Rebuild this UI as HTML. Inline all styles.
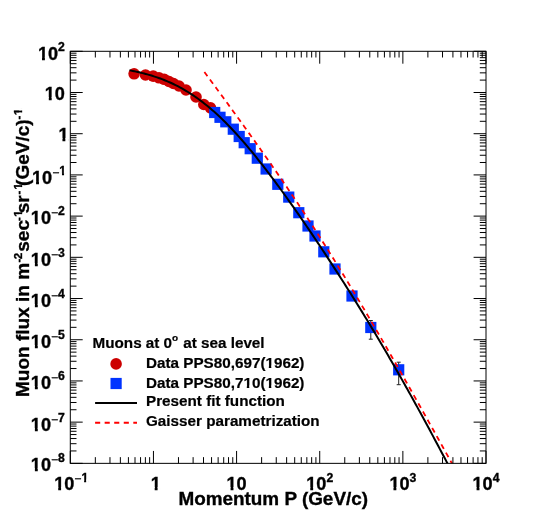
<!DOCTYPE html>
<html><head><meta charset="utf-8"><title>Muon flux</title><style>html,body{margin:0;padding:0;background:#fff}svg{display:block}</style></head><body>
<svg width="540" height="515" viewBox="0 0 540 515">
<rect width="540" height="515" fill="#fff"></rect>
<g fill="#cc0000">
<circle cx="134.1" cy="73.8" r="5.8"></circle>
<circle cx="145.5" cy="75" r="5.8"></circle>
<circle cx="153.2" cy="76.1" r="5.8"></circle>
<circle cx="159" cy="77.8" r="5.8"></circle>
<circle cx="164.2" cy="79.3" r="5.8"></circle>
<circle cx="169" cy="81.5" r="5.8"></circle>
<circle cx="173.5" cy="83.5" r="5.8"></circle>
<circle cx="179" cy="86" r="5.8"></circle>
<circle cx="186" cy="90" r="5.8"></circle>
<circle cx="196" cy="97" r="5.8"></circle>
<circle cx="203.8" cy="104.5" r="5.8"></circle>
<circle cx="210.5" cy="107.8" r="5.8"></circle>
</g>
<g stroke="#222" stroke-width="1" fill="none">
<path d="M370.8 320.5V339.2M368.8 320.5H372.8M368.8 339.2H372.8"></path>
<path d="M398.7 362.2V384.7M396.7 362.2H400.7M396.7 384.7H400.7"></path>
</g>
<g fill="#0033ff">
<rect x="209.10" y="106.90" width="11.2" height="11.2"></rect>
<rect x="214.40" y="111.70" width="11.2" height="11.2"></rect>
<rect x="220.20" y="116.20" width="11.2" height="11.2"></rect>
<rect x="227.70" y="123.60" width="11.2" height="11.2"></rect>
<rect x="233.60" y="130.90" width="11.2" height="11.2"></rect>
<rect x="238.60" y="137.10" width="11.2" height="11.2"></rect>
<rect x="244.60" y="143.10" width="11.2" height="11.2"></rect>
<rect x="251.70" y="152.60" width="11.2" height="11.2"></rect>
<rect x="260.50" y="163.40" width="11.2" height="11.2"></rect>
<rect x="272.20" y="178.70" width="11.2" height="11.2"></rect>
<rect x="283.15" y="191.50" width="11.2" height="11.2"></rect>
<rect x="293.20" y="207.10" width="11.2" height="11.2"></rect>
<rect x="302.40" y="220.40" width="11.2" height="11.2"></rect>
<rect x="309.40" y="230.40" width="11.2" height="11.2"></rect>
<rect x="318.20" y="246.20" width="11.2" height="11.2"></rect>
<rect x="329.40" y="263.40" width="11.2" height="11.2"></rect>
<rect x="346.40" y="290.40" width="11.2" height="11.2"></rect>
<rect x="365.20" y="321.90" width="11.2" height="11.2"></rect>
<rect x="393.10" y="364.20" width="11.2" height="11.2"></rect>
</g>
<clipPath id="cp"><rect x="70.3" y="51.3" width="415.7" height="412.05"></rect></clipPath>
<polyline clip-path="url(#cp)" points="129.48,70.34 131.10,70.64 132.73,70.95 134.36,71.28 135.98,71.62 137.61,71.97 139.23,72.34 140.86,72.72 142.48,73.11 144.11,73.52 145.73,73.95 147.36,74.39 148.98,74.85 150.61,75.32 152.23,75.82 153.86,76.33 155.48,76.86 157.11,77.41 158.74,77.97 160.36,78.56 161.99,79.17 163.61,79.80 165.24,80.45 166.86,81.12 168.49,81.81 170.11,82.53 171.74,83.27 173.36,84.03 174.99,84.82 176.61,85.63 178.24,86.47 179.86,87.33 181.49,88.22 183.11,89.13 184.74,90.07 186.37,91.03 187.99,92.02 189.62,93.04 191.24,94.08 192.87,95.15 194.49,96.25 196.12,97.38 197.74,98.53 199.37,99.71 200.99,100.92 202.62,102.16 204.24,103.42 205.87,104.71 207.49,106.03 209.12,107.38 210.74,108.75 212.37,110.15 214.00,111.58 215.62,113.04 217.25,114.52 218.87,116.03 220.50,117.56 222.12,119.12 223.75,120.71 225.37,122.32 227.00,123.96 228.62,125.62 230.25,127.30 231.87,129.01 233.50,130.75 235.12,132.50 236.75,134.28 238.38,136.08 240.00,137.90 241.63,139.75 243.25,141.61 244.88,143.50 246.50,145.40 248.13,147.33 249.75,149.27 251.38,151.23 253.00,153.21 254.63,155.21 256.25,157.23 257.88,159.26 259.50,161.31 261.13,163.37 262.75,165.45 264.38,167.55 266.01,169.66 267.63,171.78 269.26,173.92 270.88,176.07 272.51,178.24 274.13,180.42 275.76,182.61 277.38,184.81 279.01,187.03 280.63,189.26 282.26,191.49 283.88,193.74 285.51,196.00 287.13,198.27 288.76,200.55 290.38,202.84 292.01,205.14 293.64,207.45 295.26,209.77 296.89,212.10 298.51,214.44 300.14,216.78 301.76,219.14 303.39,221.50 305.01,223.87 306.64,226.25 308.26,228.64 309.89,231.03 311.51,233.43 313.14,235.84 314.76,238.26 316.39,240.69 318.01,243.12 319.64,245.56 321.27,248.01 322.89,250.46 324.52,252.92 326.14,255.39 327.77,257.87 329.39,260.35 331.02,262.84 332.64,265.34 334.27,267.85 335.89,270.36 337.52,272.88 339.14,275.41 340.77,277.95 342.39,280.49 344.02,283.04 345.65,285.60 347.27,288.17 348.90,290.74 350.52,293.32 352.15,295.91 353.77,298.51 355.40,301.12 357.02,303.74 358.65,306.36 360.27,308.99 361.90,311.63 363.52,314.28 365.15,316.94 366.77,319.60 368.40,322.28 370.02,324.96 371.65,327.66 373.28,330.36 374.90,333.07 376.53,335.79 378.15,338.52 379.78,341.26 381.40,344.01 383.03,346.77 384.65,349.54 386.28,352.32 387.90,355.10 389.53,357.90 391.15,360.71 392.78,363.52 394.40,366.35 396.03,369.18 397.65,372.03 399.28,374.88 400.91,377.75 402.53,380.62 404.16,383.50 405.78,386.40 407.41,389.30 409.03,392.21 410.66,395.13 412.28,398.05 413.91,400.99 415.53,403.94 417.16,406.89 418.78,409.86 420.41,412.83 422.03,415.81 423.66,418.80 425.29,421.79 426.91,424.80 428.54,427.81 430.16,430.83 431.79,433.86 433.41,436.89 435.04,439.93 436.66,442.98 438.29,446.03 439.91,449.10 441.54,452.16 443.16,455.24 444.79,458.32 446.41,461.41 448.04,464.50 449.66,467.60 451.29,470.70 452.92,473.81" fill="none" stroke="#000" stroke-width="2"></polyline>
<polyline clip-path="url(#cp)" points="204.39,71.96 205.68,73.71 206.97,75.46 208.25,77.21 209.54,78.96 210.83,80.72 212.12,82.47 213.41,84.22 214.70,85.98 215.99,87.74 217.28,89.49 218.57,91.25 219.86,93.01 221.15,94.77 222.44,96.53 223.73,98.30 225.02,100.06 226.31,101.83 227.60,103.59 228.88,105.36 230.17,107.13 231.46,108.90 232.75,110.67 234.04,112.45 235.33,114.23 236.62,116.00 237.91,117.78 239.20,119.56 240.49,121.35 241.78,123.13 243.07,124.92 244.36,126.71 245.65,128.50 246.94,130.29 248.23,132.09 249.51,133.88 250.80,135.68 252.09,137.49 253.38,139.29 254.67,141.10 255.96,142.91 257.25,144.72 258.54,146.53 259.83,148.35 261.12,150.17 262.41,152.00 263.70,153.82 264.99,155.65 266.28,157.48 267.57,159.32 268.86,161.16 270.14,163.00 271.43,164.84 272.72,166.69 274.01,168.55 275.30,170.40 276.59,172.26 277.88,174.12 279.17,175.99 280.46,177.86 281.75,179.74 283.04,181.62 284.33,183.50 285.62,185.39 286.91,187.28 288.20,189.17 289.49,191.07 290.77,192.98 292.06,194.89 293.35,196.80 294.64,198.72 295.93,200.64 297.22,202.57 298.51,204.50 299.80,206.44 301.09,208.38 302.38,210.32 303.67,212.28 304.96,214.23 306.25,216.19 307.54,218.16 308.83,220.13 310.12,222.11 311.40,224.09 312.69,226.08 313.98,228.07 315.27,230.06 316.56,232.07 317.85,234.07 319.14,236.09 320.43,238.10 321.72,240.13 323.01,242.15 324.30,244.19 325.59,246.23 326.88,248.27 328.17,250.32 329.46,252.37 330.75,254.43 332.03,256.49 333.32,258.56 334.61,260.63 335.90,262.71 337.19,264.80 338.48,266.88 339.77,268.98 341.06,271.07 342.35,273.18 343.64,275.28 344.93,277.39 346.22,279.51 347.51,281.63 348.80,283.76 350.09,285.88 351.38,288.02 352.66,290.16 353.95,292.30 355.24,294.44 356.53,296.59 357.82,298.75 359.11,300.91 360.40,303.07 361.69,305.23 362.98,307.40 364.27,309.57 365.56,311.75 366.85,313.93 368.14,316.11 369.43,318.30 370.72,320.49 372.01,322.69 373.29,324.88 374.58,327.08 375.87,329.29 377.16,331.49 378.45,333.70 379.74,335.92 381.03,338.13 382.32,340.35 383.61,342.57 384.90,344.80 386.19,347.02 387.48,349.25 388.77,351.48 390.06,353.72 391.35,355.96 392.64,358.20 393.92,360.44 395.21,362.69 396.50,364.93 397.79,367.18 399.08,369.44 400.37,371.69 401.66,373.95 402.95,376.21 404.24,378.47 405.53,380.73 406.82,383.00 408.11,385.27 409.40,387.54 410.69,389.81 411.98,392.09 413.27,394.36 414.55,396.64 415.84,398.92 417.13,401.20 418.42,403.49 419.71,405.78 421.00,408.06 422.29,410.35 423.58,412.65 424.87,414.94 426.16,417.23 427.45,419.53 428.74,421.83 430.03,424.13 431.32,426.43 432.61,428.74 433.90,431.04 435.18,433.35 436.47,435.66 437.76,437.97 439.05,440.28 440.34,442.59 441.63,444.91 442.92,447.22 444.21,449.54 445.50,451.86 446.79,454.18 448.08,456.50 449.37,458.82 450.66,461.14 451.95,463.47 453.24,465.79 454.53,468.12 455.81,470.45 457.10,472.78 458.39,475.11 459.68,477.44 460.97,479.77" fill="none" stroke="#ff0000" stroke-width="1.8" stroke-dasharray="5.2 4.2"></polyline>
<g stroke="#000" stroke-width="1" fill="none">
<rect x="70.3" y="51.3" width="415.7" height="412.05"></rect>
<path d="M70.3 463.35v-12.4M70.3 51.3v12.4M95.33 463.35v-6.2M95.33 51.3v6.2M109.97 463.35v-6.2M109.97 51.3v6.2M120.36 463.35v-6.2M120.36 51.3v6.2M128.41 463.35v-6.2M128.41 51.3v6.2M135.0 463.35v-6.2M135.0 51.3v6.2M140.56 463.35v-6.2M140.56 51.3v6.2M145.38 463.35v-6.2M145.38 51.3v6.2M149.64 463.35v-6.2M149.64 51.3v6.2M153.44 463.35v-12.4M153.44 51.3v12.4M178.47 463.35v-6.2M178.47 51.3v6.2M193.11 463.35v-6.2M193.11 51.3v6.2M203.5 463.35v-6.2M203.5 51.3v6.2M211.55 463.35v-6.2M211.55 51.3v6.2M218.14 463.35v-6.2M218.14 51.3v6.2M223.7 463.35v-6.2M223.7 51.3v6.2M228.52 463.35v-6.2M228.52 51.3v6.2M232.78 463.35v-6.2M232.78 51.3v6.2M236.58 463.35v-12.4M236.58 51.3v12.4M261.61 463.35v-6.2M261.61 51.3v6.2M276.25 463.35v-6.2M276.25 51.3v6.2M286.64 463.35v-6.2M286.64 51.3v6.2M294.69 463.35v-6.2M294.69 51.3v6.2M301.28 463.35v-6.2M301.28 51.3v6.2M306.84 463.35v-6.2M306.84 51.3v6.2M311.66 463.35v-6.2M311.66 51.3v6.2M315.92 463.35v-6.2M315.92 51.3v6.2M319.72 463.35v-12.4M319.72 51.3v12.4M344.75 463.35v-6.2M344.75 51.3v6.2M359.39 463.35v-6.2M359.39 51.3v6.2M369.78 463.35v-6.2M369.78 51.3v6.2M377.83 463.35v-6.2M377.83 51.3v6.2M384.42 463.35v-6.2M384.42 51.3v6.2M389.98 463.35v-6.2M389.98 51.3v6.2M394.8 463.35v-6.2M394.8 51.3v6.2M399.06 463.35v-6.2M399.06 51.3v6.2M402.86 463.35v-12.4M402.86 51.3v12.4M427.89 463.35v-6.2M427.89 51.3v6.2M442.53 463.35v-6.2M442.53 51.3v6.2M452.92 463.35v-6.2M452.92 51.3v6.2M460.97 463.35v-6.2M460.97 51.3v6.2M467.56 463.35v-6.2M467.56 51.3v6.2M473.12 463.35v-6.2M473.12 51.3v6.2M477.94 463.35v-6.2M477.94 51.3v6.2M482.2 463.35v-6.2M482.2 51.3v6.2M486.0 463.35v-12.4M486.0 51.3v12.4M70.3 463.35h12.4M486.0 463.35h-12.4M70.3 450.95h6.2M486.0 450.95h-6.2M70.3 443.69h6.2M486.0 443.69h-6.2M70.3 438.54h6.2M486.0 438.54h-6.2M70.3 434.55h6.2M486.0 434.55h-6.2M70.3 431.29h6.2M486.0 431.29h-6.2M70.3 428.53h6.2M486.0 428.53h-6.2M70.3 426.14h6.2M486.0 426.14h-6.2M70.3 424.03h6.2M486.0 424.03h-6.2M70.3 422.14h12.4M486.0 422.14h-12.4M70.3 409.74h6.2M486.0 409.74h-6.2M70.3 402.49h6.2M486.0 402.49h-6.2M70.3 397.34h6.2M486.0 397.34h-6.2M70.3 393.34h6.2M486.0 393.34h-6.2M70.3 390.08h6.2M486.0 390.08h-6.2M70.3 387.32h6.2M486.0 387.32h-6.2M70.3 384.93h6.2M486.0 384.93h-6.2M70.3 382.83h6.2M486.0 382.83h-6.2M70.3 380.94h12.4M486.0 380.94h-12.4M70.3 368.54h6.2M486.0 368.54h-6.2M70.3 361.28h6.2M486.0 361.28h-6.2M70.3 356.13h6.2M486.0 356.13h-6.2M70.3 352.14h6.2M486.0 352.14h-6.2M70.3 348.88h6.2M486.0 348.88h-6.2M70.3 346.12h6.2M486.0 346.12h-6.2M70.3 343.73h6.2M486.0 343.73h-6.2M70.3 341.62h6.2M486.0 341.62h-6.2M70.3 339.74h12.4M486.0 339.74h-12.4M70.3 327.33h6.2M486.0 327.33h-6.2M70.3 320.08h6.2M486.0 320.08h-6.2M70.3 314.93h6.2M486.0 314.93h-6.2M70.3 310.93h6.2M486.0 310.93h-6.2M70.3 307.67h6.2M486.0 307.67h-6.2M70.3 304.91h6.2M486.0 304.91h-6.2M70.3 302.52h6.2M486.0 302.52h-6.2M70.3 300.42h6.2M486.0 300.42h-6.2M70.3 298.53h12.4M486.0 298.53h-12.4M70.3 286.13h6.2M486.0 286.13h-6.2M70.3 278.87h6.2M486.0 278.87h-6.2M70.3 273.72h6.2M486.0 273.72h-6.2M70.3 269.73h6.2M486.0 269.73h-6.2M70.3 266.47h6.2M486.0 266.47h-6.2M70.3 263.71h6.2M486.0 263.71h-6.2M70.3 261.32h6.2M486.0 261.32h-6.2M70.3 259.21h6.2M486.0 259.21h-6.2M70.3 257.32h12.4M486.0 257.32h-12.4M70.3 244.92h6.2M486.0 244.92h-6.2M70.3 237.67h6.2M486.0 237.67h-6.2M70.3 232.52h6.2M486.0 232.52h-6.2M70.3 228.52h6.2M486.0 228.52h-6.2M70.3 225.26h6.2M486.0 225.26h-6.2M70.3 222.5h6.2M486.0 222.5h-6.2M70.3 220.11h6.2M486.0 220.11h-6.2M70.3 218.01h6.2M486.0 218.01h-6.2M70.3 216.12h12.4M486.0 216.12h-12.4M70.3 203.72h6.2M486.0 203.72h-6.2M70.3 196.46h6.2M486.0 196.46h-6.2M70.3 191.31h6.2M486.0 191.31h-6.2M70.3 187.32h6.2M486.0 187.32h-6.2M70.3 184.06h6.2M486.0 184.06h-6.2M70.3 181.3h6.2M486.0 181.3h-6.2M70.3 178.91h6.2M486.0 178.91h-6.2M70.3 176.8h6.2M486.0 176.8h-6.2M70.3 174.92h12.4M486.0 174.92h-12.4M70.3 162.51h6.2M486.0 162.51h-6.2M70.3 155.26h6.2M486.0 155.26h-6.2M70.3 150.11h6.2M486.0 150.11h-6.2M70.3 146.11h6.2M486.0 146.11h-6.2M70.3 142.85h6.2M486.0 142.85h-6.2M70.3 140.09h6.2M486.0 140.09h-6.2M70.3 137.7h6.2M486.0 137.7h-6.2M70.3 135.6h6.2M486.0 135.6h-6.2M70.3 133.71h12.4M486.0 133.71h-12.4M70.3 121.31h6.2M486.0 121.31h-6.2M70.3 114.05h6.2M486.0 114.05h-6.2M70.3 108.9h6.2M486.0 108.9h-6.2M70.3 104.91h6.2M486.0 104.91h-6.2M70.3 101.65h6.2M486.0 101.65h-6.2M70.3 98.89h6.2M486.0 98.89h-6.2M70.3 96.5h6.2M486.0 96.5h-6.2M70.3 94.39h6.2M486.0 94.39h-6.2M70.3 92.5h12.4M486.0 92.5h-12.4M70.3 80.1h6.2M486.0 80.1h-6.2M70.3 72.85h6.2M486.0 72.85h-6.2M70.3 67.7h6.2M486.0 67.7h-6.2M70.3 63.7h6.2M486.0 63.7h-6.2M70.3 60.44h6.2M486.0 60.44h-6.2M70.3 57.68h6.2M486.0 57.68h-6.2M70.3 55.29h6.2M486.0 55.29h-6.2M70.3 53.19h6.2M486.0 53.19h-6.2M70.3 51.3h12.4M486.0 51.3h-12.4"></path>
</g>
<g font-family="Liberation Sans, Arial, Helvetica, sans-serif" font-weight="bold" fill="#000" stroke="#000" stroke-width="0.35">
<text x="71.2" y="490" font-size="18.1" text-anchor="middle">10<tspan font-size="12.2" dy="-6.8999999999999995" font-weight="normal" stroke-width="0.25">−</tspan><tspan font-size="12.2" dy="-1.3">1</tspan></text><rect x="54.22" y="487.15" width="3.99" height="4.45" fill="#fff" stroke="none"></rect><rect x="61.09" y="487.15" width="3.41" height="4.45" fill="#fff" stroke="none"></rect><rect x="81.11" y="479.56" width="2.98" height="3.84" fill="#fff" stroke="none"></rect><rect x="86.16" y="479.56" width="2.47" height="3.84" fill="#fff" stroke="none"></rect>
<text x="155.7" y="490" font-size="18.1" text-anchor="middle">1</text><rect x="150.70" y="487.15" width="3.99" height="4.45" fill="#fff" stroke="none"></rect><rect x="157.58" y="487.15" width="3.41" height="4.45" fill="#fff" stroke="none"></rect>
<text x="236.6" y="490" font-size="18.1" text-anchor="middle">10</text><rect x="226.57" y="487.15" width="3.99" height="4.45" fill="#fff" stroke="none"></rect><rect x="233.45" y="487.15" width="3.41" height="4.45" fill="#fff" stroke="none"></rect>
<text x="319.7" y="490" font-size="18.1" text-anchor="middle">10<tspan font-size="12.2" dy="-8.2">2</tspan></text><rect x="306.28" y="487.15" width="3.99" height="4.45" fill="#fff" stroke="none"></rect><rect x="313.15" y="487.15" width="3.41" height="4.45" fill="#fff" stroke="none"></rect>
<text x="402.9" y="490" font-size="18.1" text-anchor="middle">10<tspan font-size="12.2" dy="-8.2">3</tspan></text><rect x="389.48" y="487.15" width="3.99" height="4.45" fill="#fff" stroke="none"></rect><rect x="396.35" y="487.15" width="3.41" height="4.45" fill="#fff" stroke="none"></rect>
<text x="486.0" y="490" font-size="18.1" text-anchor="middle">10<tspan font-size="12.2" dy="-8.2">4</tspan></text><rect x="472.58" y="487.15" width="3.99" height="4.45" fill="#fff" stroke="none"></rect><rect x="479.45" y="487.15" width="3.41" height="4.45" fill="#fff" stroke="none"></rect>
<text x="64.9" y="471" font-size="18.1" text-anchor="end">10<tspan font-size="12.2" dy="-7.3999999999999995" font-weight="normal" stroke-width="0.25">−</tspan><tspan font-size="12.2" dy="-1.3">8</tspan></text><rect x="30.89" y="468.15" width="3.99" height="4.45" fill="#fff" stroke="none"></rect><rect x="37.77" y="468.15" width="3.41" height="4.45" fill="#fff" stroke="none"></rect>
<text x="64.9" y="431" font-size="18.1" text-anchor="end">10<tspan font-size="12.2" dy="-7.3999999999999995" font-weight="normal" stroke-width="0.25">−</tspan><tspan font-size="12.2" dy="-1.3">7</tspan></text><rect x="30.89" y="428.15" width="3.99" height="4.45" fill="#fff" stroke="none"></rect><rect x="37.77" y="428.15" width="3.41" height="4.45" fill="#fff" stroke="none"></rect>
<text x="64.9" y="389" font-size="18.1" text-anchor="end">10<tspan font-size="12.2" dy="-7.3999999999999995" font-weight="normal" stroke-width="0.25">−</tspan><tspan font-size="12.2" dy="-1.3">6</tspan></text><rect x="30.89" y="386.15" width="3.99" height="4.45" fill="#fff" stroke="none"></rect><rect x="37.77" y="386.15" width="3.41" height="4.45" fill="#fff" stroke="none"></rect>
<text x="64.9" y="348" font-size="18.1" text-anchor="end">10<tspan font-size="12.2" dy="-7.3999999999999995" font-weight="normal" stroke-width="0.25">−</tspan><tspan font-size="12.2" dy="-1.3">5</tspan></text><rect x="30.89" y="345.15" width="3.99" height="4.45" fill="#fff" stroke="none"></rect><rect x="37.77" y="345.15" width="3.41" height="4.45" fill="#fff" stroke="none"></rect>
<text x="64.9" y="307" font-size="18.1" text-anchor="end">10<tspan font-size="12.2" dy="-7.3999999999999995" font-weight="normal" stroke-width="0.25">−</tspan><tspan font-size="12.2" dy="-1.3">4</tspan></text><rect x="30.89" y="304.15" width="3.99" height="4.45" fill="#fff" stroke="none"></rect><rect x="37.77" y="304.15" width="3.41" height="4.45" fill="#fff" stroke="none"></rect>
<text x="64.9" y="266" font-size="18.1" text-anchor="end">10<tspan font-size="12.2" dy="-7.3999999999999995" font-weight="normal" stroke-width="0.25">−</tspan><tspan font-size="12.2" dy="-1.3">3</tspan></text><rect x="30.89" y="263.15" width="3.99" height="4.45" fill="#fff" stroke="none"></rect><rect x="37.77" y="263.15" width="3.41" height="4.45" fill="#fff" stroke="none"></rect>
<text x="64.9" y="224" font-size="18.1" text-anchor="end">10<tspan font-size="12.2" dy="-7.3999999999999995" font-weight="normal" stroke-width="0.25">−</tspan><tspan font-size="12.2" dy="-1.3">2</tspan></text><rect x="30.89" y="221.15" width="3.99" height="4.45" fill="#fff" stroke="none"></rect><rect x="37.77" y="221.15" width="3.41" height="4.45" fill="#fff" stroke="none"></rect>
<text x="66.10000000000001" y="184" font-size="18.1" text-anchor="end">10<tspan font-size="12.2" dy="-7.3999999999999995" font-weight="normal" stroke-width="0.25">−</tspan><tspan font-size="12.2" dy="-1.3">1</tspan></text><rect x="32.09" y="181.15" width="3.99" height="4.45" fill="#fff" stroke="none"></rect><rect x="38.97" y="181.15" width="3.41" height="4.45" fill="#fff" stroke="none"></rect><rect x="58.99" y="173.06" width="2.98" height="3.84" fill="#fff" stroke="none"></rect><rect x="64.04" y="173.06" width="2.47" height="3.84" fill="#fff" stroke="none"></rect>
<text x="68.5" y="141" font-size="18.1" text-anchor="end">1</text><rect x="58.46" y="138.15" width="3.99" height="4.45" fill="#fff" stroke="none"></rect><rect x="65.34" y="138.15" width="3.41" height="4.45" fill="#fff" stroke="none"></rect>
<text x="64.9" y="100" font-size="18.1" text-anchor="end">10</text><rect x="44.80" y="97.15" width="3.99" height="4.45" fill="#fff" stroke="none"></rect><rect x="51.68" y="97.15" width="3.41" height="4.45" fill="#fff" stroke="none"></rect>
<text x="64.9" y="60" font-size="18.1" text-anchor="end">10<tspan font-size="12.2" dy="-8.7">2</tspan></text><rect x="38.02" y="57.15" width="3.99" height="4.45" fill="#fff" stroke="none"></rect><rect x="44.89" y="57.15" width="3.41" height="4.45" fill="#fff" stroke="none"></rect>
<text x="178.4" y="505" font-size="18.9">Momentum P (GeV/c)</text>
<g transform="translate(29 397) rotate(-90)">
<text x="0.00" y="0" font-size="19">Muon flux in m</text>
<text x="134.50" y="-7.5" font-size="11.6">-</text>
<text x="137.80" y="-7.5" font-size="11.6">2</text>
<text x="145.30" y="0" font-size="19">sec</text>
<text x="175.90" y="-7.5" font-size="11.6">-</text>
<text x="180.30" y="-7.5" font-size="11.6">1</text><rect x="179.93" y="-9.68" width="2.88" height="3.78" fill="#fff" stroke="none"></rect><rect x="184.80" y="-9.68" width="2.38" height="3.78" fill="#fff" stroke="none"></rect>
<text x="183.70" y="0" font-size="19">sr</text>
<text x="202.60" y="-7.5" font-size="11.6">-</text>
<text x="207.40" y="-7.5" font-size="11.6">1</text><rect x="207.03" y="-9.68" width="2.88" height="3.78" fill="#fff" stroke="none"></rect><rect x="211.90" y="-9.68" width="2.38" height="3.78" fill="#fff" stroke="none"></rect>
<text x="211.10" y="0" font-size="19">(GeV/c)</text>
<text x="277.60" y="-7.5" font-size="11.6">-</text>
<text x="282.00" y="-7.5" font-size="11.6">1</text><rect x="281.63" y="-9.68" width="2.88" height="3.78" fill="#fff" stroke="none"></rect><rect x="286.50" y="-9.68" width="2.38" height="3.78" fill="#fff" stroke="none"></rect>
</g>
<g transform="translate(92.5 347.6) scale(1 0.945)" stroke-width="0.2"><text x="0" y="0" font-size="15.25">Muons at 0<tspan font-size="10" dy="-7.4">o</tspan><tspan dy="7.4" dx="0.8"> at sea level</tspan></text></g>
<g transform="translate(146 368) scale(1 0.945)" stroke-width="0.2"><text x="0" y="0" font-size="15.25">Data PPS80,697(1962)</text><rect x="119.32" y="-2.56" width="3.50" height="4.16" fill="#fff" stroke="none"></rect><rect x="125.31" y="-2.56" width="2.95" height="4.16" fill="#fff" stroke="none"></rect></g>
<g transform="translate(146 387.9) scale(1 0.945)" stroke-width="0.2"><text x="0" y="0" font-size="15.25">Data PPS80,710(1962)</text><rect x="97.28" y="-2.56" width="3.50" height="4.16" fill="#fff" stroke="none"></rect><rect x="103.28" y="-2.56" width="2.96" height="4.16" fill="#fff" stroke="none"></rect><rect x="119.32" y="-2.56" width="3.50" height="4.16" fill="#fff" stroke="none"></rect><rect x="125.31" y="-2.56" width="2.95" height="4.16" fill="#fff" stroke="none"></rect></g>
<g transform="translate(146 406.3) scale(1 0.945)" stroke-width="0.2"><text x="0" y="0" font-size="15.25">Present fit function</text></g>
<g transform="translate(146 426.1) scale(1 0.945)" stroke-width="0.2"><text x="0" y="0" font-size="15.25">Gaisser parametrization</text></g>
</g>
<circle cx="116.1" cy="363.9" r="5.8" fill="#cc0000"></circle>
<rect x="110.5" y="377.9" width="11.2" height="11.2" fill="#0033ff"></rect>
<path d="M95.1 403.05H137" stroke="#000" stroke-width="2"></path>
<path d="M95.1 422.75H137" stroke="#ff0000" stroke-width="2" stroke-dasharray="5.1 4.45"></path>
</svg>
</body></html>
